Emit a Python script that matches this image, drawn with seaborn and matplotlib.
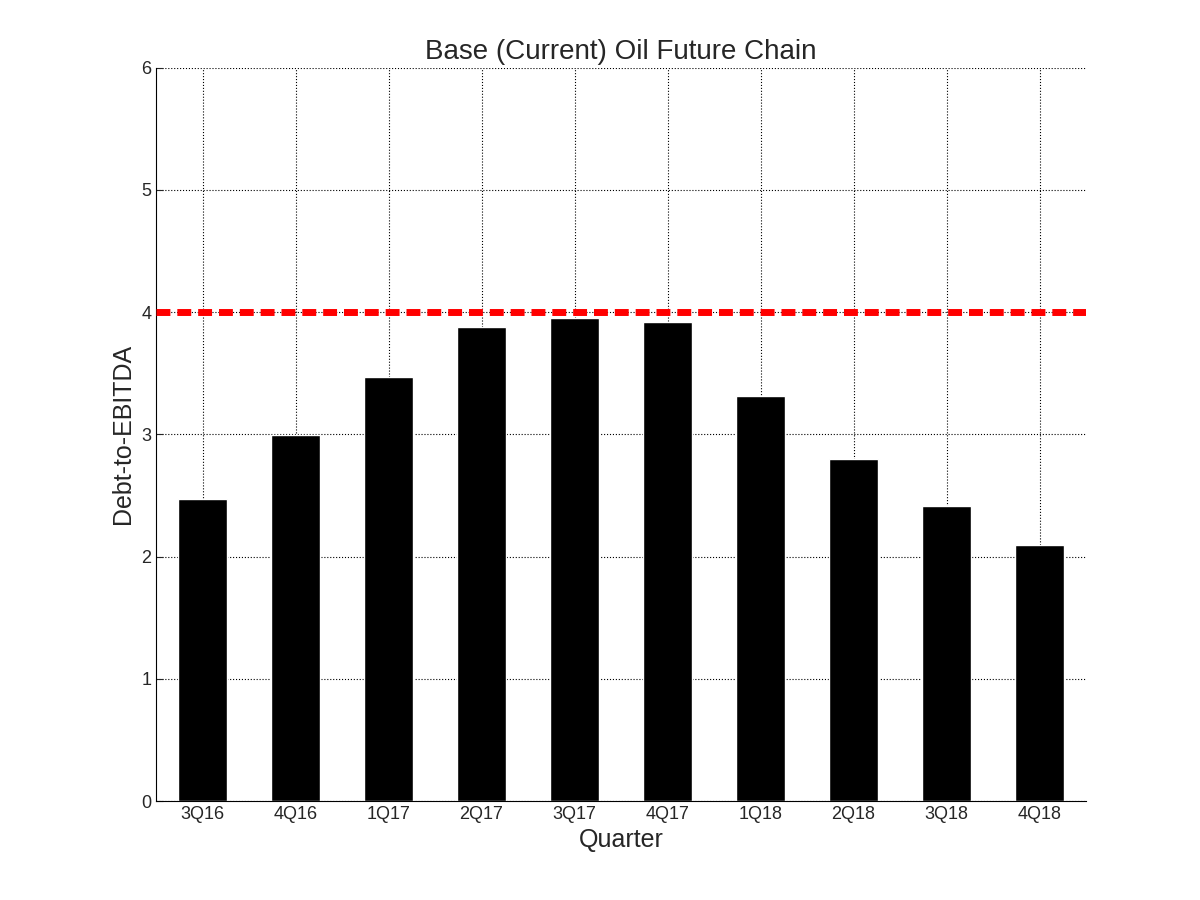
import matplotlib
matplotlib.use("Agg")
import matplotlib.pyplot as plt
import seaborn as sns
import pandas as pd

quarters = ["3Q16","4Q16","1Q17","2Q17","3Q17","4Q17","1Q18","2Q18","3Q18","4Q18"]
ratio = [2.47, 2.99, 3.47, 3.88, 3.95, 3.92, 3.31, 2.80, 2.41, 2.09]
covenant = 4.0

sns.set_style("white")
plt.rcParams['font.family'] = ['Liberation Sans', 'DejaVu Sans']
df = pd.DataFrame({"Quarter": quarters, "Ratio": ratio})

fig = plt.figure(figsize=(12, 9), dpi=100)
ax = fig.add_axes([0.13, 0.11, 0.775, 0.815])
sns.barplot(data=df, x="Quarter", y="Ratio", color="black", width=0.52, ax=ax, saturation=1, zorder=2)
ax.axhline(covenant, color="red", ls=(0, (2, 1)), lw=5, zorder=3)
ax.set_xlim(-0.5, 9.5)
ax.set_ylim(0, 6)
ax.set_yticks(range(7))
ax.grid(True, ls=":", color="black", lw=0.8, zorder=0)
ax.set_axisbelow(True)
for s in ["top", "right"]:
    ax.spines[s].set_visible(False)
for s in ["left", "bottom"]:
    ax.spines[s].set_color("black")
ax.tick_params(axis="both", labelsize=13, direction="in", length=5, left=True, bottom=True)
ax.set_xlabel("Quarter", fontsize=18)
ax.set_ylabel("Debt-to-EBITDA", fontsize=18)
ax.set_title("Base (Current) Oil Future Chain", fontsize=20)
fig.savefig("out.png")
